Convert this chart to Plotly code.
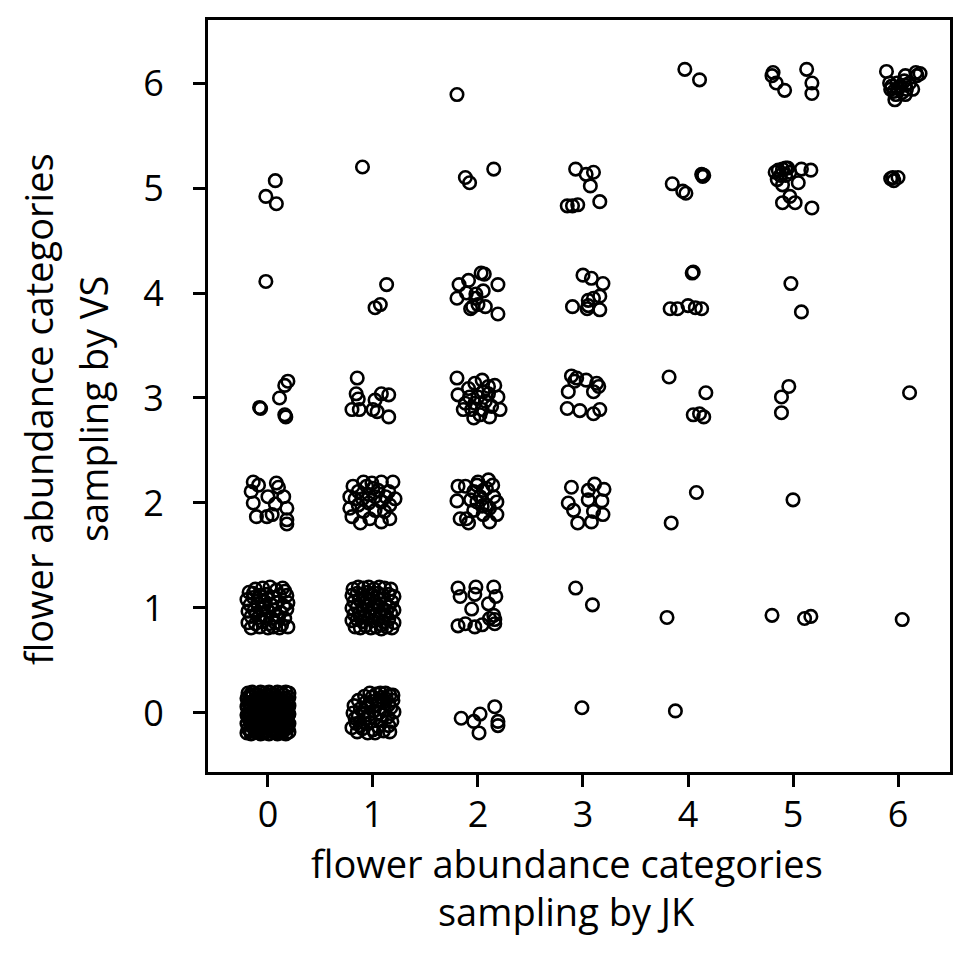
import plotly.graph_objects as go

# Jittered (JK category, VS category) pairs, grouped by VS row
row0 = [  # VS = 0
    (-0.20,-0.19),(-0.16,-0.20),(-0.12,-0.18),(-0.07,-0.20),(-0.03,-0.19),(0.01,-0.20),(0.05,-0.18),(0.09,-0.20),(0.13,-0.19),(0.17,-0.20),(0.20,-0.18),
    (-0.19,-0.15),(-0.14,-0.14),(-0.10,-0.16),(-0.05,-0.15),(-0.01,-0.14),(0.03,-0.16),(0.07,-0.15),(0.11,-0.14),(0.15,-0.16),(0.19,-0.14),
    (-0.20,-0.10),(-0.16,-0.11),(-0.12,-0.09),(-0.08,-0.11),(-0.04,-0.10),(0.00,-0.11),(0.04,-0.09),(0.08,-0.10),(0.12,-0.11),(0.16,-0.09),(0.20,-0.10),
    (-0.18,-0.06),(-0.14,-0.05),(-0.10,-0.07),(-0.06,-0.06),(-0.02,-0.05),(0.02,-0.07),(0.06,-0.06),(0.10,-0.05),(0.14,-0.07),(0.18,-0.05),
    (-0.20,-0.02),(-0.16,-0.01),(-0.12,-0.03),(-0.08,-0.02),(-0.04,-0.01),(0.00,-0.02),(0.04,-0.03),(0.08,-0.01),(0.12,-0.02),(0.16,-0.03),(0.20,-0.01),
    (-0.18,0.02),(-0.14,0.03),(-0.10,0.01),(-0.06,0.02),(-0.02,0.03),(0.02,0.01),(0.06,0.02),(0.10,0.03),(0.14,0.01),(0.18,0.02),
    (-0.20,0.06),(-0.16,0.07),(-0.12,0.05),(-0.08,0.06),(-0.04,0.07),(0.00,0.05),(0.04,0.06),(0.08,0.07),(0.12,0.05),(0.16,0.06),(0.20,0.07),
    (-0.18,0.10),(-0.14,0.11),(-0.10,0.09),(-0.06,0.10),(-0.02,0.11),(0.02,0.09),(0.06,0.10),(0.10,0.11),(0.14,0.09),(0.18,0.10),
    (-0.20,0.14),(-0.16,0.15),(-0.12,0.13),(-0.08,0.14),(-0.04,0.15),(0.00,0.13),(0.04,0.14),(0.08,0.15),(0.12,0.13),(0.16,0.14),(0.20,0.15),
    (-0.19,0.19),(-0.15,0.20),(-0.11,0.18),(-0.07,0.20),(-0.03,0.19),(0.01,0.20),(0.05,0.18),(0.09,0.20),(0.13,0.19),(0.17,0.20),(0.20,0.19),
    (-0.17,-0.17),(-0.09,-0.18),(-0.01,-0.17),(0.07,-0.18),(0.15,-0.17),(-0.13,-0.12),(-0.05,-0.13),(0.03,-0.12),(0.11,-0.13),(0.19,-0.12),
    (-0.17,-0.08),(-0.09,-0.08),(-0.01,-0.08),(0.07,-0.08),(0.15,-0.08),(-0.13,-0.04),(-0.05,-0.04),(0.03,-0.04),(0.11,-0.04),(0.19,-0.03),
    (-0.17,0.00),(-0.09,0.00),(-0.01,0.00),(0.07,0.00),(0.15,0.00),(-0.13,0.04),(-0.05,0.04),(0.03,0.04),(0.11,0.04),(0.19,0.04),
    (-0.17,0.08),(-0.09,0.08),(-0.01,0.08),(0.07,0.08),(0.15,0.08),(-0.13,0.12),(-0.05,0.12),(0.03,0.12),(0.11,0.12),(0.19,0.12),
    (-0.17,0.17),(-0.09,0.17),(-0.01,0.17),(0.07,0.17),(0.15,0.17),
    (-0.15,-0.06),(-0.07,-0.14),(0.01,-0.10),(0.09,-0.06),(0.17,-0.12),(-0.11,0.02),(-0.03,0.06),(0.05,0.10),(0.13,0.02),(-0.19,0.10),
    (-0.15,0.16),(-0.07,0.12),(0.01,0.16),(0.09,0.13),(0.17,0.06),(-0.11,-0.17),(0.05,-0.02),(-0.03,-0.08),(0.13,-0.15),(-0.19,-0.04),
    (0.86,0.12),(0.92,0.16),(0.97,0.19),(1.03,0.18),(1.08,0.15),(1.12,0.19),(1.16,0.17),(1.19,0.12),(1.15,0.08),(1.10,0.10),
    (1.04,0.08),(0.99,0.11),(0.94,0.06),(0.88,0.04),(0.82,0.07),(0.81,0.00),(0.86,-0.03),(0.91,0.00),(0.96,-0.02),(1.01,0.02),
    (1.06,0.00),(1.11,0.03),(1.17,0.05),(1.20,0.01),(1.14,-0.04),(1.08,-0.07),(1.02,-0.05),(0.97,-0.09),(0.92,-0.06),(0.84,-0.10),
    (0.80,-0.14),(0.85,-0.18),(0.90,-0.15),(0.95,-0.19),(1.00,-0.16),(1.05,-0.13),(1.10,-0.17),(1.15,-0.12),(1.18,-0.08),(1.13,0.13),
    (1.07,0.19),(0.99,0.15),(0.93,0.10),(1.19,0.17),(1.02,-0.19),(0.88,-0.12),(0.83,-0.05),(1.06,0.12),(1.16,-0.18),
    (1.84,-0.05),(1.96,-0.08),(2.02,-0.01),(2.01,-0.19),(2.16,0.06),(2.19,-0.08),(2.19,-0.12),
    (2.99,0.05),(3.88,0.02),
]

row1 = [  # VS = 1
    (-0.18,1.15),(-0.12,1.18),(-0.05,1.19),(0.02,1.20),(0.08,1.17),(0.14,1.19),(0.18,1.12),(-0.20,1.08),(-0.14,1.10),(-0.08,1.12),
    (-0.01,1.13),(0.05,1.10),(0.11,1.12),(0.19,1.05),(-0.17,1.03),(-0.10,1.04),(-0.03,1.06),(0.03,1.03),(0.09,1.05),(0.15,1.02),
    (-0.19,0.97),(-0.13,0.98),(-0.06,0.99),(0.00,0.97),(0.06,0.98),(0.12,0.96),(0.18,0.99),(-0.16,0.92),(-0.09,0.91),(-0.02,0.92),
    (0.04,0.90),(0.10,0.92),(0.16,0.90),(-0.19,0.86),(-0.12,0.85),(-0.05,0.87),(0.01,0.85),(0.07,0.86),(0.13,0.84),(0.19,0.82),
    (-0.16,0.81),(-0.08,0.82),(0.00,0.81),(0.05,0.82),(0.11,0.81),(-0.14,1.14),(0.16,1.16),(-0.04,1.01),(0.08,0.93),(-0.11,0.95),
    (0.81,1.18),(0.86,1.20),(0.91,1.19),(0.96,1.20),(1.01,1.18),(1.06,1.20),(1.11,1.19),(1.17,1.18),
    (0.80,1.12),(0.85,1.14),(0.90,1.13),(0.95,1.15),(1.00,1.12),(1.05,1.14),(1.10,1.12),(1.15,1.13),(1.20,1.11),
    (0.82,1.06),(0.87,1.08),(0.92,1.05),(0.97,1.07),(1.02,1.06),(1.07,1.08),(1.12,1.05),(1.18,1.06),
    (0.80,1.00),(0.85,1.01),(0.90,0.99),(0.95,1.02),(1.00,1.00),(1.05,1.01),(1.10,0.99),(1.15,1.01),(1.20,0.98),
    (0.82,0.94),(0.87,0.95),(0.92,0.93),(0.97,0.96),(1.02,0.94),(1.07,0.95),(1.12,0.93),(1.17,0.95),
    (0.80,0.88),(0.85,0.89),(0.90,0.87),(0.95,0.90),(1.00,0.88),(1.05,0.89),(1.10,0.87),(1.15,0.89),(1.20,0.86),
    (0.83,0.82),(0.88,0.81),(0.93,0.83),(0.98,0.81),(1.03,0.82),(1.08,0.80),(1.13,0.82),(1.18,0.81),
    (1.04,1.03),(0.93,1.10),(1.13,0.97),(0.88,0.91),(1.08,0.84),
    (1.81,1.19),(1.98,1.20),(2.15,1.20),(1.83,1.11),(1.97,1.13),(2.17,1.11),(1.94,0.99),(2.10,1.04),
    (1.81,0.83),(1.88,0.85),(1.97,0.82),(2.04,0.84),(2.15,0.93),(2.16,0.89),(2.16,0.85),(2.11,0.90),
    (2.93,1.19),(3.09,1.03),(3.80,0.91),(4.80,0.93),(5.11,0.90),(5.17,0.92),(6.04,0.89),
]

row2 = [  # VS = 2
    (-0.14,2.20),(-0.09,2.17),(0.08,2.19),(0.10,2.15),(-0.16,2.11),(-0.14,2.00),(0.00,2.06),(0.07,1.99),(0.18,1.95),
    (-0.11,1.87),(-0.01,1.87),(0.04,1.89),(0.18,1.84),(0.18,1.80),(0.15,2.06),
    (0.81,2.16),(0.91,2.20),(0.99,2.19),(1.08,2.20),(1.19,2.20),(0.78,2.06),(0.86,2.11),(0.96,2.08),(1.05,2.12),(1.15,2.11),
    (1.21,2.04),(0.78,1.95),(0.86,1.98),(0.96,2.00),(1.08,2.01),(1.16,1.98),(0.80,1.87),(0.88,1.81),(0.97,1.85),(1.08,1.82),
    (1.16,1.85),(1.02,1.93),(0.91,1.92),(1.11,1.92),(0.83,2.04),(0.94,2.16),(1.02,2.06),(0.90,2.04),(1.00,2.14),(1.12,2.06),
    (1.81,2.16),(1.88,2.16),(2.00,2.20),(2.10,2.22),(1.80,2.02),(1.96,2.11),(2.05,2.12),(2.15,2.06),(2.18,2.01),(1.99,2.01),
    (2.08,1.98),(1.83,1.85),(1.91,1.81),(1.89,1.85),(2.11,1.82),(2.18,1.89),(2.05,1.89),(1.96,1.93),(2.02,2.06),(2.04,1.97),
    (1.99,2.17),(2.11,1.95),(2.08,2.14),(1.93,2.03),(2.14,2.17),
    (2.89,2.15),(3.05,2.12),(3.11,2.18),(3.20,2.13),(2.86,2.00),(2.91,1.93),(3.05,2.03),(3.18,2.02),(3.10,1.92),(3.19,1.89),
    (2.95,1.81),(3.08,1.82),
    (4.08,2.10),(3.84,1.81),(5.00,2.03),
]

row3 = [  # VS = 3
    (-0.08,2.91),(-0.07,2.90),(0.11,3.00),(0.16,3.12),(0.19,3.16),(0.16,2.84),(0.17,2.82),
    (0.85,3.19),(0.84,3.04),(0.86,2.99),(0.80,2.89),(0.87,2.89),(1.00,2.89),(1.04,2.87),(1.08,3.04),(1.15,3.03),(1.02,2.98),(1.15,2.82),
    (1.80,3.19),(1.81,3.03),(1.97,3.14),(2.04,3.17),(2.16,3.12),(1.91,3.09),(2.10,3.04),(2.19,3.01),(1.88,2.95),(1.97,2.95),
    (2.07,2.97),(1.86,2.89),(1.94,2.89),(2.04,2.89),(2.13,2.92),(2.21,2.89),(1.96,2.81),(2.11,2.82),(2.05,3.06),(2.00,3.01),
    (2.10,3.11),(1.92,3.01),(2.02,2.84),
    (2.89,3.21),(2.94,3.19),(2.92,3.16),(3.03,3.17),(3.13,3.14),(3.15,3.11),(3.10,3.06),(2.86,3.06),(2.85,2.90),(2.97,2.88),
    (3.10,2.85),(3.16,2.89),
    (3.82,3.20),(4.17,3.05),(4.05,2.84),(4.11,2.85),(4.15,2.82),
    (4.96,3.11),(4.89,3.01),(4.89,2.86),(6.11,3.05),
]

row4 = [  # VS = 4
    (-0.02,4.11),
    (1.13,4.08),(1.02,3.86),(1.07,3.89),
    (2.03,4.19),(2.06,4.18),(1.91,4.12),(1.82,4.08),(2.19,4.08),(2.05,4.02),(1.89,4.00),(1.80,3.95),
    (1.98,3.95),(2.00,3.89),(1.93,3.85),(1.95,3.87),(2.07,3.87),(2.19,3.80),(1.98,3.99),
    (3.00,4.17),(3.08,4.14),(3.19,4.09),(3.16,3.97),(3.05,3.93),(3.05,3.88),(2.90,3.87),(3.04,3.85),(3.16,3.84),(3.10,3.95),
    (4.04,4.19),(4.05,4.20),(3.83,3.85),(3.90,3.85),(4.00,3.88),(4.07,3.86),(4.13,3.85),
    (4.98,4.09),(5.08,3.82),
]

row5 = [  # VS = 5
    (0.07,5.07),(-0.02,4.92),(0.08,4.85),
    (0.90,5.20),
    (1.88,5.10),(1.92,5.05),(2.15,5.18),
    (2.93,5.18),(3.03,5.13),(3.10,5.15),(3.07,5.02),(2.85,4.83),(2.90,4.83),(2.95,4.84),(3.16,4.87),
    (3.85,5.04),(3.95,4.97),(3.98,4.95),(4.13,5.13),(4.14,5.11),(4.15,5.12),
    (4.83,5.15),(4.86,5.17),(4.90,5.18),(4.95,5.19),(4.88,5.12),(4.93,5.12),(5.08,5.18),(5.17,5.17),(4.85,5.08),
    (4.90,5.03),(5.05,5.05),(4.97,4.92),(4.90,4.86),(5.02,4.86),(5.18,4.81),(4.97,5.15),(4.93,5.19),
    (5.93,5.09),(5.96,5.07),(6.00,5.10),(5.95,5.10),
]

row6 = [  # VS = 6
    (1.80,5.89),
    (3.97,6.13),(4.11,6.03),
    (4.81,6.10),(4.80,6.07),(4.84,6.00),(4.92,5.93),(5.13,6.13),(5.18,6.00),(5.18,5.90),
    (5.89,6.11),(6.21,6.09),(6.18,6.07),(6.17,6.10),(6.07,6.07),(5.99,6.00),(5.94,5.97),(6.02,5.97),(6.07,5.98),(6.11,6.00),
    (6.14,5.94),(5.96,5.92),(6.04,5.91),(5.97,5.84),(6.07,5.89),(5.92,6.00),(6.00,5.95),(6.08,5.94),(6.06,6.02),(5.93,5.94),
    (5.98,5.89),
]

category_ticks = [0, 1, 2, 3, 4, 5, 6]

points = row0 + row1 + row2 + row3 + row4 + row5 + row6
jk = [p[0] for p in points]
vs = [p[1] for p in points]

FONT = "Open Sans"

fig = go.Figure(go.Scatter(
    x=jk, y=vs, mode="markers",
    marker=dict(symbol="circle", size=12.5, color="rgba(0,0,0,0)", line=dict(width=2.6, color="black")),
    hoverinfo="skip",
))

axis_common = dict(
    tickvals=category_ticks, ticktext=[str(t) for t in category_ticks],
    ticks="outside", ticklen=12, tickwidth=2.5, tickcolor="black",
    showline=True, linewidth=3, linecolor="black", mirror=True,
    showgrid=False, zeroline=False,
    tickfont=dict(family=FONT, size=36, color="black"),
)

fig.update_layout(
    width=973, height=971,
    margin=dict(l=208, r=23, t=20, b=199),
    paper_bgcolor="white", plot_bgcolor="white",
    showlegend=False,
    xaxis=dict(range=[-0.571, 6.495], ticklabelstandoff=-3, **axis_common),
    yaxis=dict(range=[-0.562, 6.6], ticklabelstandoff=22, **axis_common),
    annotations=[
        dict(text="flower abundance categories", xref="paper", yref="paper", x=0.4838, y=-0.121,
             xanchor="center", yanchor="middle", showarrow=False, font=dict(family=FONT, size=38, color="black")),
        dict(text="sampling by JK", xref="paper", yref="paper", x=0.4838, y=-0.1855,
             xanchor="center", yanchor="middle", showarrow=False, font=dict(family=FONT, size=38, color="black")),
        dict(text="flower abundance categories", xref="paper", yref="paper", x=-0.2290, y=0.4827,
             xanchor="center", yanchor="middle", textangle=-90, showarrow=False, font=dict(family=FONT, size=38, color="black")),
        dict(text="sampling by VS", xref="paper", yref="paper", x=-0.1550, y=0.4827,
             xanchor="center", yanchor="middle", textangle=-90, showarrow=False, font=dict(family=FONT, size=38, color="black")),
    ],
)

fig.write_html("out.html")
